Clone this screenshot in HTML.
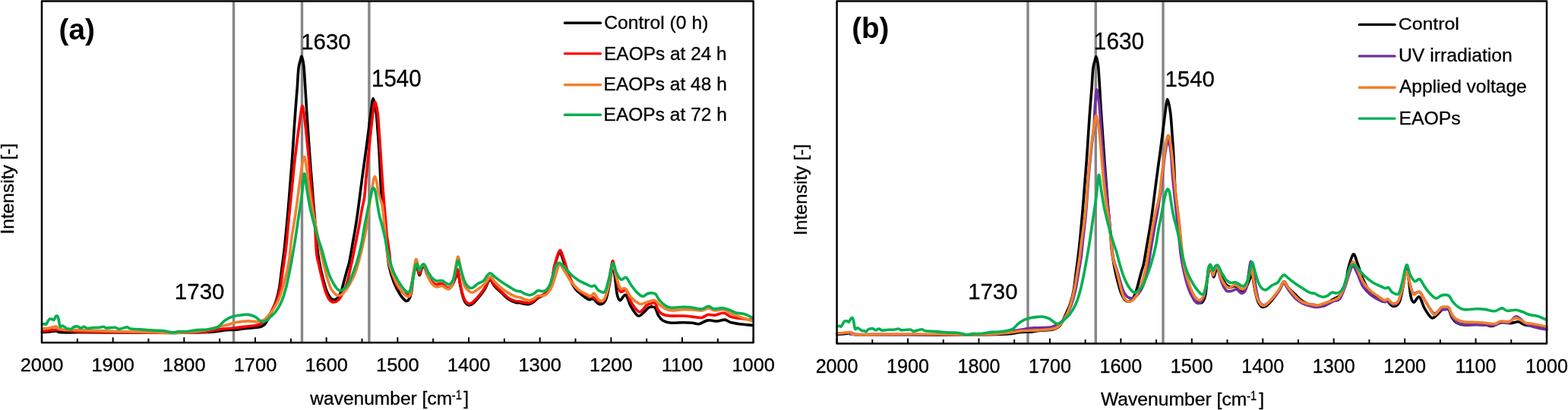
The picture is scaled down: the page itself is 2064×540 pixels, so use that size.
<!DOCTYPE html>
<html><head><meta charset="utf-8"><style>
html,body{margin:0;padding:0;background:#fff;width:2064px;height:540px;overflow:hidden}
svg{display:block}
text{font-family:"Liberation Sans", Arial, sans-serif;fill:#000;stroke:#000;stroke-width:0.3px}
text[font-weight="bold"]{stroke-width:0}
</style></head><body>
<svg width="2064" height="540" viewBox="0 0 2064 540">
<rect width="2064" height="540" fill="#fff"/>
<line x1="307.6" y1="1.5" x2="307.6" y2="451.3" stroke="#868686" stroke-width="3.4"/>
<line x1="397.5" y1="1.5" x2="397.5" y2="451.3" stroke="#868686" stroke-width="3.4"/>
<line x1="485.9" y1="1.5" x2="485.9" y2="451.3" stroke="#868686" stroke-width="3.4"/>
<line x1="55.00" y1="444.3" x2="55.00" y2="451.3" stroke="#000" stroke-width="2"/>
<line x1="101.84" y1="445.8" x2="101.84" y2="451.3" stroke="#000" stroke-width="2"/>
<line x1="148.67" y1="444.3" x2="148.67" y2="451.3" stroke="#000" stroke-width="2"/>
<line x1="195.50" y1="445.8" x2="195.50" y2="451.3" stroke="#000" stroke-width="2"/>
<line x1="242.34" y1="444.3" x2="242.34" y2="451.3" stroke="#000" stroke-width="2"/>
<line x1="289.18" y1="445.8" x2="289.18" y2="451.3" stroke="#000" stroke-width="2"/>
<line x1="336.01" y1="444.3" x2="336.01" y2="451.3" stroke="#000" stroke-width="2"/>
<line x1="382.85" y1="445.8" x2="382.85" y2="451.3" stroke="#000" stroke-width="2"/>
<line x1="429.68" y1="444.3" x2="429.68" y2="451.3" stroke="#000" stroke-width="2"/>
<line x1="476.51" y1="445.8" x2="476.51" y2="451.3" stroke="#000" stroke-width="2"/>
<line x1="523.35" y1="444.3" x2="523.35" y2="451.3" stroke="#000" stroke-width="2"/>
<line x1="570.18" y1="445.8" x2="570.18" y2="451.3" stroke="#000" stroke-width="2"/>
<line x1="617.02" y1="444.3" x2="617.02" y2="451.3" stroke="#000" stroke-width="2"/>
<line x1="663.86" y1="445.8" x2="663.86" y2="451.3" stroke="#000" stroke-width="2"/>
<line x1="710.69" y1="444.3" x2="710.69" y2="451.3" stroke="#000" stroke-width="2"/>
<line x1="757.52" y1="445.8" x2="757.52" y2="451.3" stroke="#000" stroke-width="2"/>
<line x1="804.36" y1="444.3" x2="804.36" y2="451.3" stroke="#000" stroke-width="2"/>
<line x1="851.20" y1="445.8" x2="851.20" y2="451.3" stroke="#000" stroke-width="2"/>
<line x1="898.03" y1="444.3" x2="898.03" y2="451.3" stroke="#000" stroke-width="2"/>
<line x1="944.87" y1="445.8" x2="944.87" y2="451.3" stroke="#000" stroke-width="2"/>
<line x1="991.70" y1="444.3" x2="991.70" y2="451.3" stroke="#000" stroke-width="2"/>
<text transform="translate(55.00,488.95) scale(1.0265,1)" text-anchor="middle" font-size="24.79">2000</text>
<text transform="translate(148.67,488.95) scale(1.0265,1)" text-anchor="middle" font-size="24.79">1900</text>
<text transform="translate(242.34,488.95) scale(1.0265,1)" text-anchor="middle" font-size="24.79">1800</text>
<text transform="translate(336.01,488.95) scale(1.0265,1)" text-anchor="middle" font-size="24.79">1700</text>
<text transform="translate(429.68,488.95) scale(1.0265,1)" text-anchor="middle" font-size="24.79">1600</text>
<text transform="translate(523.35,488.95) scale(1.0265,1)" text-anchor="middle" font-size="24.79">1500</text>
<text transform="translate(617.02,488.95) scale(1.0265,1)" text-anchor="middle" font-size="24.79">1400</text>
<text transform="translate(710.69,488.95) scale(1.0265,1)" text-anchor="middle" font-size="24.79">1300</text>
<text transform="translate(804.36,488.95) scale(1.0265,1)" text-anchor="middle" font-size="24.79">1200</text>
<text transform="translate(898.03,488.95) scale(1.0265,1)" text-anchor="middle" font-size="24.79">1100</text>
<text transform="translate(991.70,488.95) scale(1.0265,1)" text-anchor="middle" font-size="24.79">1000</text>
<line x1="1353.0" y1="1.4" x2="1353.0" y2="452.6" stroke="#868686" stroke-width="3.4"/>
<line x1="1442.3" y1="1.4" x2="1442.3" y2="452.6" stroke="#868686" stroke-width="3.4"/>
<line x1="1531.0" y1="1.4" x2="1531.0" y2="452.6" stroke="#868686" stroke-width="3.4"/>
<line x1="1101.60" y1="445.6" x2="1101.60" y2="452.6" stroke="#000" stroke-width="2"/>
<line x1="1148.32" y1="447.1" x2="1148.32" y2="452.6" stroke="#000" stroke-width="2"/>
<line x1="1195.04" y1="445.6" x2="1195.04" y2="452.6" stroke="#000" stroke-width="2"/>
<line x1="1241.76" y1="447.1" x2="1241.76" y2="452.6" stroke="#000" stroke-width="2"/>
<line x1="1288.48" y1="445.6" x2="1288.48" y2="452.6" stroke="#000" stroke-width="2"/>
<line x1="1335.20" y1="447.1" x2="1335.20" y2="452.6" stroke="#000" stroke-width="2"/>
<line x1="1381.92" y1="445.6" x2="1381.92" y2="452.6" stroke="#000" stroke-width="2"/>
<line x1="1428.64" y1="447.1" x2="1428.64" y2="452.6" stroke="#000" stroke-width="2"/>
<line x1="1475.36" y1="445.6" x2="1475.36" y2="452.6" stroke="#000" stroke-width="2"/>
<line x1="1522.08" y1="447.1" x2="1522.08" y2="452.6" stroke="#000" stroke-width="2"/>
<line x1="1568.80" y1="445.6" x2="1568.80" y2="452.6" stroke="#000" stroke-width="2"/>
<line x1="1615.52" y1="447.1" x2="1615.52" y2="452.6" stroke="#000" stroke-width="2"/>
<line x1="1662.24" y1="445.6" x2="1662.24" y2="452.6" stroke="#000" stroke-width="2"/>
<line x1="1708.96" y1="447.1" x2="1708.96" y2="452.6" stroke="#000" stroke-width="2"/>
<line x1="1755.68" y1="445.6" x2="1755.68" y2="452.6" stroke="#000" stroke-width="2"/>
<line x1="1802.40" y1="447.1" x2="1802.40" y2="452.6" stroke="#000" stroke-width="2"/>
<line x1="1849.12" y1="445.6" x2="1849.12" y2="452.6" stroke="#000" stroke-width="2"/>
<line x1="1895.84" y1="447.1" x2="1895.84" y2="452.6" stroke="#000" stroke-width="2"/>
<line x1="1942.56" y1="445.6" x2="1942.56" y2="452.6" stroke="#000" stroke-width="2"/>
<line x1="1989.28" y1="447.1" x2="1989.28" y2="452.6" stroke="#000" stroke-width="2"/>
<line x1="2036.00" y1="445.6" x2="2036.00" y2="452.6" stroke="#000" stroke-width="2"/>
<text transform="translate(1101.60,491.05) scale(1.0037,1)" text-anchor="middle" font-size="25.07">2000</text>
<text transform="translate(1195.04,491.05) scale(1.0037,1)" text-anchor="middle" font-size="25.07">1900</text>
<text transform="translate(1288.48,491.05) scale(1.0037,1)" text-anchor="middle" font-size="25.07">1800</text>
<text transform="translate(1381.92,491.05) scale(1.0037,1)" text-anchor="middle" font-size="25.07">1700</text>
<text transform="translate(1475.36,491.05) scale(1.0037,1)" text-anchor="middle" font-size="25.07">1600</text>
<text transform="translate(1568.80,491.05) scale(1.0037,1)" text-anchor="middle" font-size="25.07">1500</text>
<text transform="translate(1662.24,491.05) scale(1.0037,1)" text-anchor="middle" font-size="25.07">1400</text>
<text transform="translate(1755.68,491.05) scale(1.0037,1)" text-anchor="middle" font-size="25.07">1300</text>
<text transform="translate(1849.12,491.05) scale(1.0037,1)" text-anchor="middle" font-size="25.07">1200</text>
<text transform="translate(1942.56,491.05) scale(1.0037,1)" text-anchor="middle" font-size="25.07">1100</text>
<text transform="translate(2036.00,491.05) scale(1.0037,1)" text-anchor="middle" font-size="25.07">1000</text>
<path d="M55.5,437.5 C57.1,437.4 61.9,437.3 65.0,437.0 C68.1,436.7 71.5,435.8 74.0,435.9 C76.5,436.0 75.0,437.5 79.7,437.8 C84.4,438.1 90.2,437.8 102.4,437.8 C114.6,437.8 131.8,437.9 152.8,438.0 C173.8,438.1 207.4,438.5 228.4,438.4 C249.4,438.3 267.2,437.8 278.8,437.2 C290.4,436.6 292.2,435.1 297.7,434.6 C303.1,434.1 307.4,434.6 311.5,434.3 C315.6,434.0 317.4,433.2 322.2,432.7 C326.9,432.2 335.7,431.9 340.0,431.1 C344.3,430.3 345.6,429.7 347.8,427.8 C350.0,425.9 351.2,423.2 353.0,420.0 C354.8,416.8 356.6,412.2 358.3,408.3 C360.0,404.4 361.8,401.4 363.3,396.7 C364.8,392.0 366.2,386.9 367.5,380.0 C368.8,373.1 369.7,363.5 370.8,355.0 C371.9,346.5 373.2,337.9 374.2,328.9 C375.2,319.9 376.1,310.4 377.0,301.1 C377.9,291.8 378.7,282.6 379.5,273.3 C380.3,264.1 381.0,254.8 381.7,245.6 C382.4,236.3 383.2,227.1 383.9,217.8 C384.6,208.5 385.3,198.8 385.9,190.0 C386.5,181.2 386.9,173.3 387.5,165.0 C388.1,156.7 388.7,148.3 389.3,140.0 C389.9,131.7 390.7,123.3 391.3,115.0 C391.9,106.7 392.3,96.0 393.0,90.0 C393.7,84.0 394.8,81.7 395.5,79.0 C396.2,76.3 396.5,74.0 397.0,74.0 C397.5,74.0 398.0,76.7 398.5,79.0 C399.0,81.3 399.4,82.0 400.0,88.0 C400.6,94.0 401.2,106.3 401.8,115.0 C402.4,123.7 402.8,131.7 403.3,140.0 C403.8,148.3 404.4,156.7 405.0,165.0 C405.6,173.3 406.1,181.2 406.7,190.0 C407.3,198.8 408.0,208.5 408.7,217.8 C409.4,227.1 410.2,236.3 410.9,245.6 C411.6,254.8 412.3,264.1 413.1,273.3 C413.9,282.6 414.8,291.7 415.6,301.1 C416.4,310.6 417.1,321.9 418.0,330.0 C418.9,338.1 420.1,343.8 421.3,350.0 C422.5,356.2 423.9,361.8 425.3,367.3 C426.8,372.9 428.3,379.1 430.0,383.3 C431.7,387.5 433.6,390.8 435.3,392.7 C437.0,394.6 438.3,394.9 440.0,394.7 C441.7,394.5 443.6,393.6 445.3,391.3 C447.0,389.0 448.6,384.9 450.0,380.7 C451.4,376.5 452.8,370.3 454.0,366.0 C455.2,361.7 456.0,358.6 457.0,355.0 C458.0,351.4 458.9,349.9 460.0,344.4 C461.1,338.9 462.6,329.6 463.9,322.2 C465.2,314.8 466.5,307.9 467.8,300.0 C469.1,292.1 470.4,283.1 471.5,275.0 C472.6,266.9 473.4,259.8 474.5,251.6 C475.6,243.4 476.7,234.3 477.9,225.7 C479.1,217.1 480.3,208.4 481.5,199.8 C482.7,191.2 483.8,182.6 484.9,173.9 C486.0,165.2 487.1,155.2 488.2,147.9 C489.3,140.6 490.1,129.8 491.3,129.8 C492.5,129.8 494.2,140.6 495.2,147.9 C496.2,155.2 496.6,165.2 497.3,173.9 C498.0,182.6 498.6,191.2 499.1,199.8 C499.6,208.4 500.0,217.1 500.4,225.7 C500.8,234.3 501.0,243.4 501.7,251.6 C502.4,259.8 503.6,266.9 504.5,275.0 C505.4,283.1 506.2,290.8 507.0,300.0 C507.8,309.2 508.6,321.5 509.5,330.0 C510.4,338.5 510.8,344.2 512.3,351.1 C513.8,358.0 516.0,365.4 518.4,371.5 C520.8,377.6 524.0,383.7 526.6,387.8 C529.2,391.9 531.8,394.7 533.7,395.9 C535.6,397.1 536.5,396.6 537.8,394.9 C539.1,393.2 540.4,390.8 541.4,385.7 C542.4,380.6 543.0,370.0 544.0,364.0 C545.0,358.0 546.7,351.8 547.5,349.5 C548.3,347.2 548.2,348.3 549.0,350.5 C549.8,352.7 550.9,362.2 552.0,362.5 C553.1,362.8 554.6,354.6 555.5,352.5 C556.4,350.4 556.8,349.7 557.5,350.0 C558.2,350.3 559.2,352.7 560.0,354.5 C560.8,356.3 560.9,358.2 562.2,361.0 C563.5,363.8 565.8,369.0 567.8,371.5 C569.8,374.0 572.1,375.5 574.3,376.0 C576.4,376.5 578.1,373.8 580.7,374.5 C583.3,375.2 587.5,380.4 590.0,380.5 C592.5,380.6 593.9,377.8 595.6,375.0 C597.3,372.2 599.0,367.2 600.2,364.0 C601.4,360.8 601.7,354.2 602.6,356.0 C603.5,357.8 604.4,368.7 605.7,375.0 C607.0,381.3 608.7,389.6 610.4,394.0 C612.1,398.4 614.0,400.4 615.9,401.5 C617.8,402.6 619.3,401.9 621.5,400.5 C623.7,399.1 626.1,396.2 628.9,393.0 C631.7,389.8 635.5,385.1 638.1,381.0 C640.7,376.9 642.4,369.2 644.6,368.5 C646.8,367.8 648.5,374.2 651.1,377.0 C653.7,379.8 657.0,382.7 660.0,385.5 C663.0,388.3 666.2,391.9 669.3,394.0 C672.4,396.1 676.0,397.4 678.5,398.2 C681.0,399.0 682.1,398.4 684.1,398.8 C686.1,399.2 688.5,400.0 690.6,400.3 C692.8,400.6 695.0,401.0 697.0,400.5 C699.0,400.0 700.8,398.8 702.6,397.5 C704.5,396.2 705.9,393.9 708.1,392.5 C710.3,391.1 713.6,390.1 715.6,388.8 C717.6,387.6 718.7,387.3 720.2,385.0 C721.7,382.7 723.6,378.3 724.8,375.0 C726.0,371.7 726.8,368.9 727.6,365.0 C728.4,361.1 728.2,357.2 729.7,351.8 C731.2,346.4 734.5,334.0 736.5,332.8 C738.5,331.6 739.9,339.3 742.0,344.7 C744.1,350.1 746.6,359.1 749.1,365.0 C751.6,370.9 754.2,376.2 757.3,380.3 C760.4,384.4 764.5,387.1 767.5,389.5 C770.5,391.9 773.4,393.9 775.6,394.6 C777.8,395.3 778.5,392.6 780.7,393.6 C782.9,394.6 786.2,400.4 788.9,400.7 C791.6,401.0 794.8,399.9 797.0,395.6 C799.2,391.4 800.6,382.7 802.1,375.2 C803.6,367.7 805.0,352.8 806.2,350.8 C807.4,348.8 808.2,356.9 809.2,363.0 C810.2,369.1 811.1,382.1 812.3,387.5 C813.5,392.9 814.5,395.4 816.4,395.6 C818.3,395.8 821.1,387.1 823.5,388.5 C825.9,389.9 827.9,399.2 830.6,403.8 C833.3,408.4 837.1,414.6 839.8,416.0 C842.5,417.4 845.0,413.4 847.0,411.9 C849.0,410.3 850.4,408.0 851.9,406.7 C853.4,405.4 854.6,404.4 856.3,404.2 C858.0,403.9 860.5,403.3 862.2,405.2 C863.9,407.1 865.0,412.8 866.7,415.6 C868.4,418.4 869.9,420.6 872.6,422.2 C875.3,423.8 878.5,424.8 883.0,425.2 C887.5,425.6 894.6,424.8 899.3,424.8 C904.0,424.8 907.6,424.9 911.1,425.2 C914.6,425.5 916.5,427.2 920.0,426.7 C923.5,426.1 927.9,422.5 931.9,421.9 C935.9,421.3 940.0,423.1 943.7,423.0 C947.4,422.9 951.1,420.9 954.1,421.1 C957.1,421.4 958.3,423.6 961.5,424.5 C964.7,425.4 968.5,426.0 973.4,426.7 C978.3,427.4 988.1,428.2 991.0,428.5" fill="none" stroke="#000000" stroke-width="3.6" stroke-linejoin="round" stroke-linecap="round"/>
<path d="M55.5,436.5 C58.6,436.1 66.2,434.2 74.0,434.3 C81.8,434.4 89.3,436.3 102.4,436.8 C115.5,437.3 131.8,437.3 152.8,437.5 C173.8,437.7 209.5,438.1 228.4,438.0 C247.3,437.9 255.7,438.0 266.2,437.2 C276.7,436.4 285.1,434.2 291.4,433.4 C297.7,432.6 298.9,433.0 304.0,432.5 C309.1,432.0 316.2,431.2 322.2,430.4 C328.2,429.6 335.6,429.1 340.0,427.8 C344.4,426.6 346.4,425.2 348.9,422.9 C351.4,420.6 353.2,416.8 355.0,414.0 C356.8,411.2 358.0,408.9 359.5,406.0 C361.0,403.1 362.7,401.0 364.2,396.7 C365.7,392.4 367.3,386.9 368.7,380.0 C370.1,373.1 371.2,363.5 372.5,355.0 C373.8,346.5 375.1,337.9 376.2,328.9 C377.3,319.9 378.0,310.4 378.9,301.1 C379.8,291.8 380.8,282.6 381.7,273.3 C382.6,264.1 383.6,254.8 384.5,245.6 C385.4,236.3 386.3,227.1 387.3,217.8 C388.3,208.5 389.4,198.8 390.5,190.0 C391.6,181.2 392.8,172.7 393.8,165.0 C394.9,157.3 396.1,148.2 396.8,144.0 C397.5,139.8 397.6,139.5 398.0,139.5 C398.4,139.5 398.6,139.8 399.3,144.0 C400.0,148.2 401.1,157.3 402.0,165.0 C402.9,172.7 403.7,181.2 404.6,190.0 C405.5,198.8 406.5,208.5 407.3,217.8 C408.1,227.1 408.7,236.3 409.5,245.6 C410.3,254.8 411.4,264.1 412.3,273.3 C413.2,282.6 414.1,291.0 414.8,301.1 C415.5,311.2 415.8,325.9 416.7,334.0 C417.6,342.1 418.8,344.4 420.0,350.0 C421.2,355.6 422.6,361.5 424.0,367.3 C425.4,373.1 427.0,380.0 428.7,384.7 C430.4,389.4 432.2,393.1 434.0,395.3 C435.8,397.5 437.4,398.0 439.3,398.0 C441.2,398.0 443.3,397.3 445.3,395.3 C447.3,393.3 449.4,389.8 451.3,386.0 C453.2,382.2 455.2,377.2 456.7,372.7 C458.1,368.2 458.9,363.6 460.0,358.9 C461.1,354.2 462.0,350.5 463.3,344.4 C464.6,338.3 466.3,329.6 467.8,322.2 C469.3,314.8 470.8,307.4 472.2,300.0 C473.6,292.6 474.8,284.8 476.0,278.0 C477.2,271.2 478.8,265.9 479.7,259.4 C480.6,252.8 480.8,246.5 481.5,238.7 C482.2,230.9 483.2,221.3 484.1,212.7 C485.0,204.0 485.8,195.4 486.7,186.8 C487.6,178.2 488.4,169.5 489.5,160.9 C490.6,152.3 491.9,137.2 493.1,135.0 C494.4,132.8 496.0,141.4 497.0,147.9 C498.0,154.4 498.5,165.2 499.1,173.9 C499.8,182.6 500.3,191.2 500.9,199.8 C501.5,208.4 501.9,217.1 502.5,225.7 C503.1,234.3 503.7,243.4 504.3,251.6 C504.9,259.8 505.6,267.8 506.2,275.0 C506.8,282.2 507.5,289.1 508.0,295.0 C508.5,300.9 508.6,304.4 509.3,310.4 C510.0,316.3 511.4,323.7 512.3,330.7 C513.2,337.7 513.8,346.9 514.7,352.6 C515.7,358.3 516.6,360.9 518.0,365.0 C519.4,369.1 521.0,373.7 523.0,377.0 C525.0,380.3 527.9,383.2 530.0,385.0 C532.1,386.8 533.8,388.3 535.5,388.0 C537.2,387.7 538.6,387.3 540.0,383.0 C541.4,378.7 542.8,367.8 544.0,362.0 C545.2,356.2 546.7,350.2 547.5,348.0 C548.3,345.8 548.2,346.9 549.0,349.0 C549.8,351.1 550.9,360.6 552.0,360.9 C553.1,361.2 554.6,353.1 555.5,351.0 C556.4,348.9 556.8,348.2 557.5,348.5 C558.2,348.8 559.2,351.1 560.0,353.0 C560.8,354.9 560.9,357.0 562.2,359.8 C563.5,362.6 565.8,367.5 567.8,370.0 C569.8,372.5 572.1,374.1 574.3,374.6 C576.4,375.2 578.1,372.5 580.7,373.3 C583.3,374.1 587.5,379.2 590.0,379.3 C592.5,379.4 593.9,376.5 595.6,373.7 C597.3,370.9 599.0,365.7 600.2,362.6 C601.4,359.5 601.7,353.4 602.6,355.2 C603.5,357.0 604.4,367.5 605.7,373.7 C607.0,379.9 608.7,387.9 610.4,392.2 C612.1,396.5 614.0,398.5 615.9,399.6 C617.8,400.7 619.3,400.1 621.5,398.7 C623.7,397.3 626.1,394.5 628.9,391.3 C631.7,388.1 635.5,383.3 638.1,379.3 C640.7,375.3 642.4,367.8 644.6,367.2 C646.8,366.6 648.5,372.8 651.1,375.6 C653.7,378.4 657.0,381.3 660.0,384.1 C663.0,386.9 666.2,390.3 669.3,392.4 C672.4,394.5 676.0,395.8 678.5,396.6 C681.0,397.4 682.1,396.7 684.1,397.0 C686.1,397.3 688.5,398.1 690.6,398.4 C692.8,398.7 695.0,399.3 697.0,398.9 C699.0,398.5 700.8,397.3 702.6,396.1 C704.5,394.9 705.9,392.9 708.1,391.5 C710.3,390.1 713.6,389.0 715.6,387.8 C717.6,386.6 718.7,386.4 720.2,384.1 C721.7,381.8 723.6,377.3 724.8,373.9 C726.0,370.5 726.8,367.5 727.6,363.7 C728.4,359.9 728.2,356.4 729.7,350.8 C731.2,345.2 734.5,331.7 736.5,330.0 C738.5,328.3 739.9,335.1 742.0,340.6 C744.1,346.1 746.6,356.7 749.1,363.0 C751.6,369.3 754.2,374.4 757.3,378.3 C760.4,382.2 764.5,384.4 767.5,386.4 C770.5,388.4 773.4,389.6 775.6,390.5 C777.8,391.4 778.3,390.3 780.7,391.5 C783.1,392.7 787.2,397.6 789.9,397.6 C792.6,397.6 794.8,397.6 797.0,391.5 C799.2,385.4 801.5,369.0 803.1,361.0 C804.7,353.0 805.4,343.6 806.6,343.6 C807.8,343.6 808.8,354.5 810.3,361.0 C811.8,367.5 813.7,378.7 815.4,382.4 C817.1,386.1 819.0,383.6 820.5,383.4 C822.0,383.2 822.4,378.9 824.1,381.3 C825.8,383.7 828.0,392.8 830.6,397.6 C833.2,402.4 837.5,407.9 839.8,409.9 C842.1,411.9 842.4,411.0 844.4,409.6 C846.4,408.2 849.7,403.1 851.9,401.5 C854.1,399.9 856.1,400.1 857.8,399.7 C859.5,399.2 860.9,397.5 862.2,398.8 C863.6,400.1 864.4,405.0 865.9,407.4 C867.4,409.8 868.5,411.9 871.1,413.3 C873.7,414.7 876.8,415.6 881.5,416.0 C886.2,416.4 894.4,415.8 899.3,416.0 C904.2,416.2 907.1,416.7 911.1,417.1 C915.1,417.5 919.5,418.9 923.0,418.5 C926.5,418.1 928.9,415.1 931.9,414.5 C934.9,413.9 937.3,415.5 940.8,415.1 C944.2,414.7 949.1,411.9 952.6,412.2 C956.1,412.5 958.0,415.9 961.5,417.1 C965.0,418.3 968.5,418.6 973.4,419.3 C978.3,420.0 988.1,421.1 991.0,421.5" fill="none" stroke="#ff0000" stroke-width="3.6" stroke-linejoin="round" stroke-linecap="round"/>
<path d="M55.5,433.0 C57.0,432.9 61.5,432.6 64.6,432.1 C67.7,431.6 71.7,429.8 74.0,430.0 C76.3,430.2 73.8,432.6 78.5,433.4 C83.2,434.2 90.0,434.1 102.4,434.6 C114.8,435.1 136.0,436.0 152.8,436.5 C169.6,437.0 190.6,437.5 203.2,437.8 C215.8,438.1 220.0,438.5 228.4,438.4 C236.8,438.3 246.2,437.8 253.6,437.2 C260.9,436.6 267.3,435.7 272.5,434.6 C277.7,433.6 280.8,431.9 285.0,430.9 C289.2,429.8 293.3,429.4 297.7,428.3 C302.1,427.2 306.7,425.5 311.5,424.6 C316.3,423.7 321.9,423.0 326.7,422.9 C331.4,422.8 336.5,424.1 340.0,423.8 C343.5,423.5 345.9,422.2 347.8,421.1 C349.8,420.1 349.8,419.6 351.7,417.5 C353.6,415.4 356.7,412.1 359.2,408.3 C361.7,404.6 364.3,400.6 366.7,395.0 C369.1,389.4 371.4,381.7 373.3,375.0 C375.2,368.3 377.0,360.8 378.3,355.0 C379.6,349.2 380.1,346.7 381.0,340.0 C381.9,333.3 382.5,323.8 383.7,315.0 C384.9,306.2 386.7,296.5 388.1,287.2 C389.5,277.9 390.8,268.6 392.0,259.4 C393.2,250.1 394.5,239.4 395.6,231.7 C396.7,224.0 397.7,217.2 398.5,213.0 C399.3,208.8 400.0,207.0 400.6,206.7 C401.2,206.4 401.6,209.2 402.0,211.0 C402.4,212.8 402.3,212.0 403.1,217.8 C403.9,223.6 405.4,236.3 406.7,245.6 C408.0,254.8 409.3,264.1 410.9,273.3 C412.5,282.6 414.5,291.7 416.4,301.1 C418.2,310.6 420.4,322.3 422.0,330.0 C423.6,337.7 424.6,341.3 426.0,347.3 C427.4,353.3 429.0,360.4 430.7,366.0 C432.4,371.6 434.2,377.1 436.0,380.7 C437.8,384.2 439.6,385.9 441.3,387.3 C443.0,388.7 444.3,389.4 446.0,389.3 C447.7,389.2 449.3,388.6 451.3,386.7 C453.3,384.8 455.9,381.2 458.0,378.0 C460.1,374.8 462.4,370.5 464.0,367.3 C465.6,364.1 466.4,362.7 467.8,358.9 C469.2,355.1 470.5,350.5 472.2,344.4 C473.9,338.3 476.1,329.6 477.8,322.2 C479.5,314.8 480.9,307.9 482.2,300.0 C483.5,292.1 484.3,283.1 485.5,275.0 C486.7,266.9 488.3,257.8 489.3,251.6 C490.3,245.4 490.8,241.2 491.5,238.0 C492.2,234.8 492.7,232.2 493.4,232.2 C494.1,232.2 494.8,234.8 495.5,238.0 C496.2,241.2 497.0,247.6 497.8,251.6 C498.6,255.6 499.6,258.6 500.5,262.0 C501.4,265.4 502.5,266.5 503.4,272.0 C504.3,277.5 505.0,285.2 506.0,295.0 C507.0,304.8 508.1,321.3 509.3,330.7 C510.5,340.1 511.3,344.3 513.3,351.1 C515.3,357.9 518.6,365.7 521.5,371.5 C524.4,377.3 528.1,382.5 530.6,385.7 C533.1,388.9 535.1,390.8 536.8,390.8 C538.5,390.8 539.6,390.8 540.8,385.7 C542.0,380.6 543.0,366.8 544.0,360.0 C545.0,353.2 545.9,348.1 546.5,345.0 C547.1,341.9 547.2,341.5 547.6,341.3 C548.0,341.1 548.3,341.9 549.0,344.0 C549.7,346.1 550.9,353.0 552.0,354.0 C553.1,355.0 554.6,350.9 555.5,350.0 C556.4,349.1 556.8,348.2 557.5,348.5 C558.2,348.8 559.2,349.9 560.0,352.0 C560.8,354.1 561.2,357.5 562.5,361.0 C563.8,364.5 565.8,370.0 567.8,372.8 C569.8,375.6 572.0,377.2 574.3,377.8 C576.6,378.4 579.1,376.0 581.7,376.5 C584.3,377.0 587.7,381.2 590.0,380.7 C592.3,380.2 593.9,378.9 595.6,373.7 C597.3,368.5 599.0,355.5 600.2,349.6 C601.4,343.7 602.1,338.1 603.0,338.1 C603.9,338.1 604.5,343.7 605.7,349.6 C606.9,355.5 608.7,368.3 610.4,373.7 C612.1,379.1 614.0,380.1 615.9,382.0 C617.8,383.9 619.3,385.3 621.5,385.2 C623.7,385.1 626.1,383.0 628.9,381.1 C631.7,379.2 635.4,376.5 638.1,373.7 C640.8,370.9 643.0,364.9 645.2,364.4 C647.4,363.9 648.6,368.4 651.1,370.9 C653.6,373.4 657.0,376.9 660.0,379.4 C663.0,381.9 666.2,384.0 669.3,385.9 C672.4,387.8 676.0,389.7 678.5,390.6 C681.0,391.5 682.1,390.9 684.1,391.5 C686.1,392.1 688.5,393.6 690.6,394.3 C692.8,395.0 695.0,395.8 697.0,395.6 C699.0,395.4 700.8,394.3 702.6,393.3 C704.5,392.3 705.9,390.2 708.1,389.6 C710.3,389.0 713.4,390.2 715.6,389.6 C717.8,389.0 719.2,388.0 721.1,385.9 C723.0,383.8 725.2,380.1 726.7,376.7 C728.2,373.3 729.5,368.4 730.4,365.6 C731.3,362.8 731.2,362.8 732.2,360.0 C733.2,357.2 734.7,349.2 736.5,348.7 C738.3,348.2 740.6,353.3 743.0,356.9 C745.4,360.5 748.1,366.0 751.1,370.1 C754.1,374.2 757.9,378.4 761.3,381.3 C764.7,384.2 768.8,386.1 771.5,387.5 C774.2,388.9 775.8,390.1 777.6,389.9 C779.4,389.7 780.4,385.6 782.1,386.4 C783.8,387.2 785.8,393.1 787.8,394.6 C789.8,396.1 792.0,397.8 794.0,395.6 C796.0,393.4 798.0,389.3 800.1,381.3 C802.2,373.3 804.9,351.1 806.6,347.7 C808.3,344.3 808.7,355.7 810.3,361.0 C811.9,366.3 814.2,376.1 816.4,379.3 C818.6,382.5 821.1,378.3 823.5,380.3 C825.9,382.3 827.7,388.3 830.6,391.5 C833.5,394.7 838.2,398.3 840.8,399.7 C843.3,401.1 843.6,400.4 845.9,400.0 C848.2,399.6 852.1,397.7 854.8,397.0 C857.5,396.3 860.0,394.9 862.2,395.6 C864.4,396.4 865.7,399.6 868.2,401.5 C870.7,403.4 874.3,405.9 877.0,407.1 C879.7,408.3 880.8,408.8 884.5,408.9 C888.2,409.0 894.4,407.8 899.3,407.7 C904.2,407.6 909.9,408.0 914.1,408.2 C918.3,408.4 921.4,409.3 924.5,408.9 C927.6,408.5 929.9,405.9 932.6,405.9 C935.3,405.9 937.5,408.6 940.8,408.9 C944.1,409.2 949.1,407.1 952.6,407.7 C956.1,408.3 958.0,411.0 961.5,412.6 C965.0,414.2 968.5,415.4 973.4,417.1 C978.3,418.8 988.1,422.0 991.0,423.0" fill="none" stroke="#f27f2d" stroke-width="3.6" stroke-linejoin="round" stroke-linecap="round"/>
<path d="M55.5,427.0 C56.0,426.9 57.4,426.5 58.3,426.5 C59.2,426.5 59.8,428.1 60.8,427.1 C61.8,426.2 63.3,422.0 64.6,420.8 C65.9,419.6 67.4,420.1 68.4,420.2 C69.5,420.3 70.0,422.1 70.9,421.4 C71.8,420.7 73.0,416.6 74.0,416.1 C75.0,415.6 75.8,416.0 76.6,418.3 C77.4,420.6 78.2,428.4 79.1,430.2 C80.0,432.0 81.2,428.9 82.2,429.0 C83.2,429.1 84.5,430.3 85.4,430.9 C86.4,431.5 87.0,432.4 87.9,432.8 C88.8,433.2 90.0,432.8 91.0,433.0 C92.0,433.2 92.6,434.4 93.6,434.0 C94.5,433.6 95.2,431.6 96.7,430.9 C98.2,430.2 100.8,429.8 102.4,430.0 C104.0,430.2 104.8,432.1 106.2,432.1 C107.6,432.1 109.1,430.1 110.6,430.2 C112.1,430.3 113.0,432.3 115.0,432.5 C117.0,432.7 120.0,431.7 122.5,431.5 C125.0,431.3 127.8,431.7 130.1,431.5 C132.4,431.3 134.7,430.1 136.4,430.2 C138.1,430.3 137.7,431.9 140.2,432.1 C142.7,432.3 148.8,431.0 151.5,431.2 C154.2,431.4 154.0,433.4 156.6,433.4 C159.2,433.3 164.8,431.0 167.3,430.9 C169.8,430.8 167.8,432.4 171.7,433.0 C175.6,433.6 185.3,433.9 190.6,434.3 C195.8,434.7 199.4,435.1 203.2,435.3 C207.0,435.5 210.4,435.2 213.3,435.5 C216.2,435.8 218.5,436.4 220.8,436.8 C223.1,437.2 224.8,438.0 227.1,438.0 C229.4,438.0 231.3,437.1 234.7,436.8 C238.1,436.6 243.1,436.9 247.3,436.5 C251.5,436.1 255.7,435.0 259.9,434.6 C264.1,434.2 268.1,434.6 272.5,434.0 C276.9,433.4 282.7,432.6 286.3,430.9 C289.9,429.2 291.4,425.9 293.9,423.9 C296.4,421.9 298.9,420.2 301.4,418.9 C303.9,417.6 306.2,416.9 308.9,416.2 C311.6,415.5 314.8,415.2 317.8,414.9 C320.8,414.6 323.7,414.0 326.7,414.4 C329.7,414.8 333.0,415.8 335.6,417.1 C338.2,418.4 340.4,421.1 342.2,422.2 C344.0,423.3 345.0,424.0 346.7,423.8 C348.4,423.6 350.8,422.0 352.2,421.1 C353.6,420.2 353.1,420.2 355.0,418.3 C356.9,416.4 360.7,413.6 363.3,410.0 C365.9,406.4 368.6,402.0 370.8,396.7 C373.0,391.4 374.9,385.2 376.7,378.3 C378.5,371.4 380.4,361.4 381.7,355.0 C383.0,348.6 383.3,346.7 384.5,340.0 C385.7,333.3 387.3,323.8 388.7,315.0 C390.1,306.2 391.4,296.5 392.8,287.2 C394.2,277.9 395.9,267.6 397.0,259.4 C398.1,251.2 398.7,243.1 399.3,238.0 C399.9,232.9 400.2,229.6 400.6,228.9 C401.1,228.2 401.5,231.2 402.0,234.0 C402.5,236.8 402.4,239.0 403.4,245.6 C404.4,252.2 406.2,264.1 408.1,273.3 C410.0,282.6 413.2,294.2 415.0,301.1 C416.8,308.1 417.5,310.2 419.0,315.0 C420.5,319.8 422.4,324.6 424.0,330.0 C425.6,335.4 427.0,341.8 428.7,347.3 C430.4,352.9 432.1,358.6 434.0,363.3 C435.9,368.0 438.2,372.3 440.0,375.3 C441.8,378.3 443.2,380.1 444.7,381.3 C446.1,382.5 447.1,383.0 448.7,382.7 C450.2,382.4 452.2,381.0 454.0,379.3 C455.8,377.6 458.0,374.9 459.3,372.7 C460.6,370.5 461.1,368.3 462.0,366.0 C462.9,363.7 463.7,362.5 465.0,358.9 C466.3,355.3 468.2,350.5 470.0,344.4 C471.8,338.3 474.0,329.6 475.6,322.2 C477.2,314.8 478.2,306.7 479.4,300.0 C480.6,293.3 481.8,288.0 483.0,282.0 C484.2,276.0 485.4,269.2 486.5,264.0 C487.6,258.8 488.7,253.8 489.5,251.0 C490.3,248.2 490.8,247.3 491.5,247.5 C492.2,247.7 493.1,248.3 494.0,252.0 C494.9,255.7 496.0,264.3 496.9,269.6 C497.8,274.9 498.6,279.8 499.5,284.0 C500.4,288.2 501.4,290.6 502.5,295.0 C503.6,299.4 504.9,304.4 506.2,310.4 C507.5,316.3 508.8,323.9 510.3,330.7 C511.8,337.5 513.7,345.7 515.4,351.1 C517.1,356.5 518.5,359.2 520.5,363.3 C522.5,367.4 525.1,371.9 527.6,375.5 C530.1,379.1 533.7,383.5 535.7,384.7 C537.7,385.9 538.5,385.5 539.8,382.7 C541.1,379.9 542.4,373.1 543.5,368.0 C544.6,362.9 545.8,355.4 546.5,352.0 C547.2,348.6 547.5,348.1 548.0,347.6 C548.5,347.1 548.8,347.5 549.5,349.0 C550.2,350.5 551.1,356.2 552.0,356.4 C552.9,356.6 554.1,351.4 555.0,350.0 C555.9,348.6 556.8,347.8 557.6,347.9 C558.4,348.0 559.1,348.9 560.0,350.5 C560.9,352.1 562.0,355.6 563.0,357.5 C564.0,359.4 565.2,360.7 566.0,362.0 C566.8,363.3 566.4,364.1 567.8,365.4 C569.2,366.7 572.0,369.3 574.3,370.0 C576.6,370.7 578.9,368.8 581.7,369.6 C584.5,370.4 588.4,374.9 590.9,374.6 C593.4,374.4 595.0,371.7 596.5,368.1 C598.0,364.6 599.1,357.5 600.2,353.3 C601.3,349.1 601.9,342.8 603.0,343.1 C604.1,343.4 605.3,350.7 606.7,355.2 C608.1,359.7 609.8,366.3 611.3,370.0 C612.8,373.7 614.2,375.8 615.9,377.4 C617.6,378.9 619.3,379.9 621.5,379.3 C623.7,378.7 626.4,375.2 628.9,373.7 C631.4,372.1 634.3,371.7 636.3,370.0 C638.3,368.3 639.4,365.2 640.9,363.5 C642.4,361.8 643.5,359.7 645.2,359.8 C646.9,359.9 648.6,362.5 651.1,364.4 C653.6,366.3 657.0,369.0 660.0,371.1 C663.0,373.2 666.2,375.2 669.3,377.1 C672.4,379.0 675.7,381.5 678.5,382.7 C681.3,383.9 683.9,383.4 685.9,384.1 C687.9,384.8 688.8,386.1 690.6,386.9 C692.5,387.7 695.0,388.7 697.0,388.7 C699.0,388.7 700.8,387.9 702.6,386.9 C704.5,385.9 706.2,383.2 708.1,382.7 C710.0,382.1 711.8,383.8 713.7,383.6 C715.6,383.5 717.6,383.3 719.3,381.8 C721.0,380.3 722.7,377.5 723.9,374.8 C725.1,372.1 725.9,368.1 726.7,365.6 C727.5,363.1 727.6,362.6 728.5,360.0 C729.4,357.4 730.7,352.3 732.0,350.0 C733.3,347.7 734.7,346.0 736.5,346.3 C738.3,346.6 740.6,349.4 743.0,351.8 C745.4,354.2 748.1,358.1 751.1,361.0 C754.1,363.9 757.9,366.9 761.3,369.1 C764.7,371.3 768.6,372.8 771.5,374.2 C774.4,375.6 776.8,377.0 778.7,377.3 C780.6,377.6 781.2,375.4 782.7,376.2 C784.2,377.0 785.6,381.0 787.8,382.4 C790.0,383.8 793.8,386.6 796.0,384.4 C798.2,382.2 799.3,375.4 801.1,369.1 C802.9,362.8 804.9,348.4 806.6,346.7 C808.3,345.0 809.5,355.3 811.3,358.9 C813.1,362.5 815.3,367.0 817.4,368.1 C819.5,369.2 821.9,364.2 824.1,365.4 C826.3,366.6 828.2,371.9 830.6,375.2 C833.0,378.5 836.2,382.9 838.8,385.4 C841.3,387.9 843.7,390.1 845.9,390.4 C848.1,390.7 849.9,387.8 851.9,387.0 C853.9,386.2 855.9,385.8 857.8,385.9 C859.6,386.0 861.3,385.8 863.0,387.4 C864.7,389.0 866.1,393.1 868.2,395.6 C870.3,398.1 873.1,400.6 875.6,402.2 C878.1,403.8 879.0,404.9 883.0,405.2 C887.0,405.5 894.8,404.3 899.3,404.2 C903.8,404.1 905.8,404.3 909.7,404.8 C913.7,405.3 919.2,407.4 923.0,407.1 C926.8,406.9 929.9,403.4 932.6,403.3 C935.3,403.2 936.2,406.3 939.3,406.7 C942.4,407.1 947.6,405.4 951.1,405.6 C954.6,405.9 957.0,407.1 960.0,408.2 C963.0,409.2 965.7,411.0 968.9,411.9 C972.1,412.8 975.6,412.5 979.3,413.6 C983.0,414.7 989.0,417.7 991.0,418.5" fill="none" stroke="#00b050" stroke-width="3.6" stroke-linejoin="round" stroke-linecap="round"/>
<path d="M1102.1,440.3 C1103.7,440.2 1108.5,440.1 1111.6,439.8 C1114.7,439.5 1118.1,438.6 1120.6,438.7 C1123.0,438.8 1121.5,440.3 1126.2,440.6 C1131.0,440.9 1136.7,440.6 1148.9,440.6 C1161.0,440.6 1178.2,440.7 1199.2,440.8 C1220.1,440.9 1253.6,441.3 1274.6,441.2 C1295.5,441.1 1313.3,440.6 1324.9,440.0 C1336.4,439.4 1338.3,437.9 1343.7,437.4 C1349.1,436.9 1353.4,437.4 1357.5,437.1 C1361.5,436.8 1363.4,436.0 1368.1,435.5 C1372.9,434.9 1381.6,434.7 1385.9,433.9 C1390.2,433.0 1391.5,432.4 1393.7,430.5 C1395.8,428.7 1397.1,426.0 1398.9,422.7 C1400.6,419.4 1402.4,414.8 1404.2,410.9 C1405.9,407.0 1407.6,404.0 1409.1,399.2 C1410.7,394.5 1412.1,389.4 1413.3,382.4 C1414.6,375.4 1415.5,365.9 1416.6,357.3 C1417.7,348.7 1419.0,340.1 1420.0,331.0 C1421.0,322.0 1421.9,312.4 1422.8,303.0 C1423.7,293.7 1424.5,284.4 1425.3,275.1 C1426.1,265.8 1426.8,256.5 1427.5,247.2 C1428.2,237.9 1429.0,228.5 1429.7,219.2 C1430.4,209.9 1431.1,200.1 1431.7,191.2 C1432.3,182.4 1432.7,174.5 1433.3,166.1 C1433.9,157.7 1434.4,149.3 1435.1,140.9 C1435.7,132.5 1436.5,124.1 1437.1,115.8 C1437.7,107.4 1438.1,96.6 1438.8,90.6 C1439.5,84.6 1440.6,82.2 1441.3,79.5 C1441.9,76.8 1442.3,74.5 1442.8,74.5 C1443.3,74.5 1443.8,77.2 1444.3,79.5 C1444.8,81.9 1445.2,82.6 1445.8,88.6 C1446.3,94.6 1447.0,107.0 1447.6,115.8 C1448.1,124.5 1448.5,132.5 1449.0,140.9 C1449.6,149.3 1450.2,157.7 1450.7,166.1 C1451.3,174.5 1451.8,182.4 1452.4,191.2 C1453.1,200.1 1453.7,209.9 1454.4,219.2 C1455.1,228.5 1455.9,237.9 1456.6,247.2 C1457.4,256.5 1458.0,265.8 1458.8,275.1 C1459.6,284.4 1460.5,293.5 1461.3,303.0 C1462.1,312.5 1462.8,323.9 1463.7,332.1 C1464.7,340.3 1465.8,346.0 1467.0,352.2 C1468.2,358.5 1469.5,364.1 1471.0,369.7 C1472.4,375.2 1474.0,381.5 1475.7,385.8 C1477.3,390.0 1479.3,393.3 1481.0,395.2 C1482.6,397.1 1484.0,397.5 1485.7,397.2 C1487.3,397.0 1489.3,396.2 1490.9,393.8 C1492.6,391.5 1494.2,387.4 1495.6,383.1 C1497.1,378.9 1498.5,372.7 1499.6,368.4 C1500.8,364.0 1501.6,360.9 1502.6,357.3 C1503.6,353.7 1504.5,352.1 1505.6,346.6 C1506.8,341.1 1508.2,331.7 1509.5,324.3 C1510.8,316.8 1512.1,309.8 1513.4,301.9 C1514.7,294.0 1516.0,284.9 1517.1,276.8 C1518.2,268.7 1519.0,261.5 1520.1,253.2 C1521.1,245.0 1522.3,235.8 1523.5,227.2 C1524.6,218.5 1525.9,209.8 1527.1,201.1 C1528.2,192.4 1529.3,183.7 1530.4,175.0 C1531.6,166.3 1532.7,156.3 1533.7,148.9 C1534.8,141.5 1535.7,130.7 1536.8,130.7 C1538.0,130.7 1539.7,141.5 1540.7,148.9 C1541.7,156.3 1542.2,166.3 1542.8,175.0 C1543.5,183.7 1544.1,192.4 1544.6,201.1 C1545.1,209.8 1545.5,218.5 1545.9,227.2 C1546.3,235.8 1546.5,245.0 1547.2,253.2 C1547.9,261.5 1549.1,268.7 1550.0,276.8 C1550.9,284.9 1551.7,292.7 1552.5,301.9 C1553.3,311.2 1554.1,323.6 1555.0,332.1 C1555.9,340.7 1556.3,346.4 1557.8,353.4 C1559.3,360.3 1561.5,367.7 1563.9,373.9 C1566.2,380.0 1569.5,386.2 1572.0,390.3 C1574.6,394.4 1577.3,397.2 1579.1,398.4 C1581.0,399.6 1581.9,399.1 1583.2,397.4 C1584.5,395.7 1585.8,393.4 1586.8,388.2 C1587.8,383.0 1588.4,372.4 1589.4,366.3 C1590.4,360.3 1592.1,354.0 1592.9,351.7 C1593.7,349.5 1593.6,350.6 1594.4,352.8 C1595.1,354.9 1596.3,364.5 1597.4,364.8 C1598.5,365.2 1600.0,356.9 1600.9,354.8 C1601.8,352.7 1602.1,351.9 1602.9,352.2 C1603.6,352.6 1604.6,354.9 1605.4,356.8 C1606.1,358.6 1606.3,360.5 1607.6,363.3 C1608.9,366.2 1611.1,371.4 1613.1,373.9 C1615.2,376.4 1617.5,377.9 1619.6,378.4 C1621.8,378.9 1623.4,376.1 1626.0,376.9 C1628.6,377.7 1632.8,382.9 1635.3,382.9 C1637.8,383.0 1639.2,380.2 1640.9,377.4 C1642.6,374.6 1644.3,369.5 1645.5,366.3 C1646.6,363.2 1646.9,356.4 1647.9,358.3 C1648.8,360.1 1649.7,371.0 1651.0,377.4 C1652.2,383.8 1653.9,392.1 1655.6,396.5 C1657.3,401.0 1659.3,403.0 1661.1,404.1 C1663.0,405.2 1664.6,404.5 1666.7,403.1 C1668.9,401.6 1671.3,398.8 1674.1,395.5 C1676.9,392.3 1680.7,387.6 1683.3,383.4 C1685.9,379.3 1687.6,371.5 1689.8,370.9 C1691.9,370.2 1693.7,376.6 1696.2,379.4 C1698.8,382.3 1702.1,385.1 1705.1,388.0 C1708.1,390.8 1711.3,394.4 1714.4,396.5 C1717.5,398.7 1721.1,399.9 1723.6,400.8 C1726.0,401.6 1727.1,401.0 1729.2,401.4 C1731.2,401.7 1733.5,402.6 1735.6,402.9 C1737.8,403.2 1740.0,403.5 1742.0,403.1 C1744.0,402.6 1745.8,401.4 1747.6,400.0 C1749.5,398.7 1750.9,396.5 1753.1,395.0 C1755.3,393.6 1758.6,392.6 1760.6,391.3 C1762.6,390.0 1763.6,389.8 1765.2,387.5 C1766.7,385.2 1768.5,380.8 1769.8,377.4 C1771.0,374.1 1771.7,371.2 1772.6,367.3 C1773.4,363.5 1773.2,359.5 1774.6,354.1 C1776.1,348.7 1779.4,336.1 1781.4,334.9 C1783.5,333.7 1784.8,341.5 1786.9,346.9 C1789.0,352.3 1791.5,361.4 1794.0,367.3 C1796.5,373.3 1799.1,378.6 1802.2,382.7 C1805.2,386.8 1809.3,389.6 1812.4,392.0 C1815.4,394.4 1818.2,396.4 1820.4,397.1 C1822.6,397.8 1823.3,395.1 1825.5,396.1 C1827.7,397.1 1831.0,402.9 1833.7,403.3 C1836.4,403.6 1839.6,402.4 1841.8,398.1 C1844.0,393.9 1845.3,385.1 1846.9,377.6 C1848.4,370.1 1849.8,355.1 1851.0,353.1 C1852.1,351.0 1852.9,359.2 1854.0,365.3 C1855.0,371.5 1855.8,384.5 1857.0,390.0 C1858.2,395.5 1859.3,398.0 1861.1,398.1 C1863.0,398.3 1865.9,389.6 1868.2,391.0 C1870.6,392.4 1872.6,401.8 1875.3,406.4 C1878.0,411.0 1881.8,417.3 1884.5,418.7 C1887.2,420.0 1889.6,416.1 1891.7,414.5 C1893.7,413.0 1895.0,410.6 1896.5,409.3 C1898.1,408.0 1899.2,407.0 1900.9,406.8 C1902.6,406.5 1905.1,405.9 1906.8,407.8 C1908.6,409.7 1909.6,415.4 1911.3,418.3 C1913.0,421.1 1914.5,423.3 1917.2,424.9 C1919.9,426.5 1923.1,427.5 1927.6,427.9 C1932.0,428.4 1939.2,427.5 1943.8,427.5 C1948.5,427.5 1952.2,427.6 1955.6,427.9 C1959.0,428.2 1961.0,430.0 1964.5,429.4 C1967.9,428.9 1972.4,425.2 1976.4,424.6 C1980.3,424.0 1984.4,425.8 1988.1,425.7 C1991.8,425.6 1995.5,423.5 1998.5,423.8 C2001.5,424.1 2002.7,426.3 2005.9,427.2 C2009.1,428.2 2012.8,428.8 2017.7,429.4 C2022.7,430.1 2032.4,430.9 2035.3,431.2" fill="none" stroke="#000000" stroke-width="3.6" stroke-linejoin="round" stroke-linecap="round"/>
<path d="M1101.6,439.5 C1104.7,439.2 1116.3,437.8 1120.0,438.0 C1123.7,438.2 1110.7,440.1 1124.0,440.5 C1137.3,440.9 1174.8,440.4 1200.0,440.5 C1225.2,440.6 1256.3,441.2 1275.0,441.0 C1293.7,440.8 1302.7,440.2 1312.0,439.5 C1321.3,438.8 1325.7,437.4 1331.0,436.5 C1336.3,435.6 1339.2,434.9 1343.7,434.2 C1348.2,433.5 1354.1,432.5 1358.0,432.1 C1361.9,431.7 1362.7,432.1 1367.2,431.8 C1371.7,431.5 1380.1,431.6 1385.0,430.4 C1389.9,429.2 1393.7,426.9 1396.7,424.4 C1399.8,421.9 1401.1,419.3 1403.3,415.6 C1405.5,411.9 1408.0,407.8 1410.0,402.2 C1412.0,396.6 1413.8,390.3 1415.6,382.2 C1417.4,374.1 1419.4,361.0 1420.7,353.3 C1422.0,345.6 1422.8,341.6 1423.5,336.0 C1424.2,330.4 1424.1,329.3 1425.1,320.0 C1426.1,310.7 1428.2,294.6 1429.5,280.0 C1430.8,265.4 1431.8,246.7 1433.0,232.6 C1434.2,218.5 1435.5,206.4 1436.6,195.6 C1437.7,184.8 1439.0,177.6 1439.8,168.0 C1440.6,158.4 1440.9,146.3 1441.5,138.0 C1442.1,129.7 1442.8,120.0 1443.5,118.3 C1444.2,116.6 1444.9,124.7 1445.5,128.0 C1446.1,131.3 1446.5,132.7 1447.0,138.0 C1447.5,143.3 1448.1,151.3 1448.8,160.0 C1449.5,168.7 1450.0,178.3 1450.9,190.0 C1451.8,201.7 1453.2,218.2 1454.3,230.0 C1455.4,241.8 1456.3,250.3 1457.3,260.5 C1458.3,270.7 1459.5,281.9 1460.4,291.1 C1461.3,300.3 1462.0,307.4 1462.8,315.5 C1463.6,323.6 1464.1,332.9 1465.5,340.0 C1466.9,347.1 1468.9,351.1 1471.0,358.0 C1473.1,364.9 1475.9,376.1 1478.0,381.5 C1480.1,386.9 1481.4,388.8 1483.6,390.7 C1485.8,392.6 1488.5,393.2 1491.0,392.6 C1493.5,392.0 1496.1,389.8 1498.4,387.0 C1500.7,384.2 1502.9,381.1 1504.9,375.9 C1506.9,370.7 1508.7,363.6 1510.4,355.6 C1512.1,347.6 1513.5,337.1 1515.0,327.8 C1516.5,318.5 1518.3,308.0 1519.7,300.0 C1521.1,292.0 1522.3,286.9 1523.5,280.0 C1524.7,273.1 1525.6,267.0 1526.7,258.9 C1527.8,250.7 1528.9,240.4 1530.0,231.1 C1531.1,221.8 1532.5,210.2 1533.5,203.3 C1534.5,196.5 1535.1,193.2 1535.8,190.0 C1536.5,186.8 1537.0,184.0 1537.6,184.0 C1538.2,184.0 1538.8,186.8 1539.5,190.0 C1540.2,193.2 1540.8,196.5 1541.5,203.3 C1542.2,210.2 1542.6,221.8 1543.4,231.1 C1544.2,240.4 1545.4,250.7 1546.2,258.9 C1547.0,267.0 1547.7,272.6 1548.5,280.0 C1549.3,287.4 1549.9,293.3 1551.0,303.3 C1552.1,313.3 1553.0,327.8 1555.0,340.0 C1557.0,352.2 1560.5,367.5 1563.3,376.7 C1566.1,385.9 1569.2,391.2 1571.7,395.0 C1574.2,398.8 1576.1,400.1 1578.3,399.3 C1580.5,398.5 1583.0,396.3 1585.0,390.0 C1587.0,383.7 1588.8,368.1 1590.0,361.5 C1591.2,354.9 1591.5,351.9 1592.2,350.5 C1593.0,349.1 1593.7,350.9 1594.5,353.0 C1595.3,355.1 1596.1,362.8 1596.9,363.0 C1597.7,363.2 1598.7,356.0 1599.5,354.0 C1600.3,352.0 1600.6,348.0 1602.0,351.0 C1603.4,354.0 1606.0,366.6 1608.1,371.9 C1610.2,377.2 1612.3,381.1 1614.6,383.0 C1616.9,384.9 1619.8,383.3 1622.0,383.0 C1624.2,382.7 1625.4,380.6 1627.6,381.1 C1629.8,381.7 1632.8,386.6 1635.0,386.3 C1637.2,386.0 1638.9,385.4 1640.6,379.3 C1642.3,373.2 1644.1,355.2 1645.2,349.6 C1646.3,344.0 1646.1,343.4 1647.0,345.9 C1647.9,348.4 1649.2,356.4 1650.7,364.4 C1652.2,372.4 1654.4,387.9 1656.3,394.1 C1658.2,400.3 1659.9,400.6 1661.9,401.5 C1663.9,402.4 1665.7,401.5 1668.3,399.6 C1670.9,397.8 1674.8,393.5 1677.6,390.4 C1680.4,387.3 1683.0,384.0 1685.0,381.1 C1687.0,378.2 1687.8,372.7 1689.6,372.8 C1691.4,372.9 1693.5,378.6 1696.1,382.0 C1698.7,385.4 1702.3,390.2 1705.4,393.1 C1708.5,396.0 1711.2,397.9 1714.6,399.6 C1718.0,401.3 1722.3,402.5 1725.7,403.3 C1729.1,404.1 1731.8,404.8 1735.0,404.5 C1738.2,404.2 1741.8,403.0 1745.2,401.7 C1748.6,400.4 1752.4,398.0 1755.4,396.6 C1758.5,395.2 1761.0,396.8 1763.5,393.6 C1766.0,390.4 1768.7,382.7 1770.7,377.3 C1772.8,371.9 1774.1,365.4 1775.8,361.0 C1777.5,356.6 1779.0,350.8 1780.9,350.8 C1782.8,350.8 1784.8,356.6 1787.0,361.0 C1789.2,365.4 1791.2,372.7 1794.1,377.3 C1797.0,381.9 1800.9,385.6 1804.3,388.5 C1807.7,391.4 1811.5,393.1 1814.5,394.6 C1817.5,396.1 1820.6,397.3 1822.6,397.6 C1824.6,397.9 1824.8,396.0 1826.7,396.6 C1828.6,397.2 1831.5,401.3 1833.9,401.3 C1836.3,401.3 1838.8,401.0 1841.0,396.6 C1843.2,392.2 1845.4,382.5 1847.1,375.2 C1848.8,367.9 1849.8,353.5 1851.2,352.8 C1852.6,352.1 1853.8,365.5 1855.3,371.1 C1856.8,376.7 1858.2,384.2 1860.4,386.4 C1862.6,388.6 1866.0,382.9 1868.5,384.4 C1871.0,385.9 1872.8,391.2 1875.6,395.6 C1878.4,400.0 1883.1,408.2 1885.4,411.0 C1887.7,413.8 1887.5,413.1 1889.4,412.6 C1891.3,412.1 1894.7,409.0 1896.9,408.2 C1899.1,407.4 1901.1,407.8 1902.8,407.7 C1904.5,407.6 1905.6,405.6 1907.2,407.4 C1908.8,409.2 1910.4,415.5 1912.4,418.5 C1914.4,421.5 1916.5,423.7 1919.1,425.2 C1921.7,426.7 1923.8,427.0 1928.0,427.4 C1932.2,427.8 1939.1,427.2 1944.3,427.4 C1949.5,427.6 1955.1,428.4 1959.1,428.5 C1963.0,428.6 1965.3,428.9 1968.0,428.2 C1970.7,427.5 1972.4,425.0 1975.4,424.5 C1978.4,424.0 1982.6,426.4 1985.8,425.2 C1989.0,424.0 1992.2,418.1 1994.7,417.1 C1997.2,416.1 1998.4,417.8 2000.6,419.3 C2002.8,420.8 2005.0,424.0 2008.0,425.9 C2011.0,427.8 2013.7,429.0 2018.4,430.4 C2023.1,431.8 2033.1,433.5 2036.0,434.1" fill="none" stroke="#7030a0" stroke-width="3.6" stroke-linejoin="round" stroke-linecap="round"/>
<path d="M1101.6,439.0 C1103.0,438.9 1107.0,438.8 1110.0,438.5 C1113.0,438.2 1117.2,437.2 1119.4,437.5 C1121.6,437.8 1119.8,439.7 1123.2,440.3 C1126.6,440.9 1127.0,440.9 1139.6,440.9 C1152.2,440.8 1180.5,440.1 1198.8,440.0 C1217.1,439.9 1236.6,440.4 1249.2,440.5 C1261.8,440.6 1263.9,441.0 1274.4,440.9 C1284.9,440.8 1302.8,440.1 1312.2,439.6 C1321.7,439.1 1325.8,438.4 1331.1,437.8 C1336.3,437.2 1337.7,436.4 1343.7,435.9 C1349.7,435.4 1360.3,435.3 1367.2,434.9 C1374.1,434.5 1380.7,434.1 1385.0,433.3 C1389.3,432.5 1390.6,432.2 1393.3,430.0 C1396.0,427.8 1398.5,424.6 1401.1,420.0 C1403.7,415.4 1406.7,408.9 1408.9,402.2 C1411.1,395.5 1412.7,388.1 1414.4,380.0 C1416.1,371.9 1417.7,360.6 1418.9,353.3 C1420.1,346.0 1420.8,341.6 1421.5,336.0 C1422.2,330.4 1422.1,329.3 1423.3,320.0 C1424.5,310.7 1427.1,294.6 1428.6,280.0 C1430.1,265.4 1431.2,246.7 1432.4,232.6 C1433.7,218.5 1434.9,206.4 1436.1,195.6 C1437.3,184.8 1438.6,175.1 1439.8,167.8 C1441.0,160.5 1441.9,152.0 1443.0,152.0 C1444.1,152.0 1445.3,160.5 1446.3,167.8 C1447.3,175.1 1448.2,185.2 1449.1,195.6 C1450.0,206.0 1450.9,219.2 1451.9,230.0 C1452.9,240.8 1454.0,250.3 1455.3,260.5 C1456.6,270.7 1458.5,280.9 1459.8,291.1 C1461.1,301.3 1462.1,313.5 1463.0,321.6 C1463.9,329.8 1463.8,333.8 1465.0,340.0 C1466.2,346.2 1468.5,351.7 1470.3,358.7 C1472.1,365.7 1474.4,376.3 1476.0,381.9 C1477.6,387.5 1478.2,389.9 1479.9,392.5 C1481.6,395.1 1484.0,397.2 1486.3,397.2 C1488.6,397.2 1491.2,395.8 1493.7,392.6 C1496.2,389.4 1498.8,384.0 1501.1,377.8 C1503.4,371.6 1505.7,363.9 1507.6,355.6 C1509.5,347.3 1510.8,337.1 1512.3,327.8 C1513.8,318.5 1515.5,308.0 1516.9,300.0 C1518.4,292.0 1519.5,286.9 1521.0,280.0 C1522.5,273.1 1524.5,267.0 1525.9,258.9 C1527.3,250.7 1528.1,240.4 1529.2,231.1 C1530.3,221.8 1531.8,211.0 1532.8,203.3 C1533.8,195.6 1534.7,189.2 1535.5,185.0 C1536.3,180.8 1536.8,178.5 1537.6,178.3 C1538.3,178.1 1539.2,179.8 1540.0,184.0 C1540.8,188.2 1541.7,195.5 1542.6,203.3 C1543.5,211.2 1544.4,221.8 1545.3,231.1 C1546.2,240.4 1547.2,250.7 1548.1,258.9 C1549.0,267.0 1549.9,272.8 1550.8,280.0 C1551.7,287.2 1552.4,293.7 1553.3,302.0 C1554.2,310.3 1555.0,321.7 1556.0,330.0 C1557.0,338.3 1557.5,344.8 1559.0,352.0 C1560.5,359.2 1562.6,366.7 1565.0,373.3 C1567.4,379.9 1570.8,388.1 1573.3,391.7 C1575.8,395.3 1578.0,395.8 1580.0,395.0 C1582.0,394.2 1583.3,392.4 1585.0,386.7 C1586.7,381.0 1588.8,367.1 1590.0,361.0 C1591.2,354.9 1591.8,351.4 1592.5,350.0 C1593.2,348.6 1593.8,350.4 1594.5,352.5 C1595.2,354.6 1596.1,362.3 1596.9,362.4 C1597.7,362.5 1598.6,355.0 1599.5,353.0 C1600.4,351.0 1601.0,348.3 1602.3,350.5 C1603.6,352.7 1605.5,362.1 1607.2,366.3 C1609.0,370.5 1611.0,373.4 1612.8,375.6 C1614.6,377.8 1616.1,379.4 1618.3,379.3 C1620.5,379.2 1622.9,374.9 1625.7,375.2 C1628.5,375.5 1632.5,381.0 1635.0,381.1 C1637.5,381.2 1638.9,379.2 1640.6,375.6 C1642.3,372.1 1644.0,363.4 1645.2,359.8 C1646.4,356.2 1646.7,352.0 1647.6,354.3 C1648.5,356.6 1649.4,367.1 1650.7,373.7 C1652.0,380.3 1653.5,389.3 1655.4,394.1 C1657.3,398.9 1659.8,401.5 1661.9,402.4 C1664.1,403.3 1665.7,401.8 1668.3,399.6 C1670.9,397.4 1674.8,392.8 1677.6,389.4 C1680.4,386.0 1683.0,382.4 1685.0,379.3 C1687.0,376.2 1687.8,370.9 1689.6,370.9 C1691.4,370.9 1693.5,376.1 1696.1,379.3 C1698.7,382.6 1702.3,387.3 1705.4,390.4 C1708.5,393.5 1711.2,396.1 1714.6,397.8 C1718.0,399.6 1722.3,400.2 1725.7,400.9 C1729.1,401.6 1731.8,402.4 1735.0,402.0 C1738.2,401.6 1742.0,399.8 1745.2,398.7 C1748.4,397.6 1751.5,396.8 1754.4,395.6 C1757.3,394.4 1760.0,394.6 1762.5,391.5 C1765.0,388.4 1767.5,383.1 1769.7,377.3 C1771.9,371.5 1773.9,362.3 1775.8,356.9 C1777.7,351.5 1779.0,345.0 1780.9,344.7 C1782.8,344.4 1784.8,350.4 1787.0,354.8 C1789.2,359.2 1791.2,366.3 1794.1,371.1 C1797.0,375.9 1800.9,380.2 1804.3,383.4 C1807.7,386.6 1811.5,388.5 1814.5,390.5 C1817.5,392.5 1820.6,395.0 1822.6,395.6 C1824.6,396.2 1824.8,393.3 1826.7,394.0 C1828.6,394.7 1831.5,399.4 1833.9,399.7 C1836.3,400.0 1838.8,399.7 1841.0,395.6 C1843.2,391.5 1845.4,381.5 1847.1,375.2 C1848.8,368.9 1849.8,358.6 1851.2,357.9 C1852.6,357.2 1853.8,366.2 1855.3,371.1 C1856.8,376.0 1858.2,385.3 1860.4,387.5 C1862.6,389.7 1866.0,383.0 1868.5,384.4 C1871.0,385.8 1872.8,391.1 1875.6,395.6 C1878.3,400.1 1882.7,408.4 1885.0,411.5 C1887.3,414.6 1887.4,415.2 1889.4,414.1 C1891.4,413.1 1894.7,406.9 1896.9,405.2 C1899.1,403.5 1901.1,404.2 1902.8,404.2 C1904.5,404.2 1905.7,403.4 1907.2,405.2 C1908.7,407.0 1910.0,412.2 1911.7,414.8 C1913.4,417.4 1914.9,419.3 1917.6,420.8 C1920.3,422.3 1923.5,423.4 1928.0,424.0 C1932.5,424.6 1939.6,424.2 1944.3,424.5 C1949.0,424.8 1952.1,425.2 1956.1,425.5 C1960.0,425.8 1964.8,426.8 1968.0,426.4 C1971.2,426.0 1972.4,423.4 1975.4,423.0 C1978.4,422.6 1982.6,424.4 1985.8,423.7 C1989.0,423.0 1992.2,419.5 1994.7,419.0 C1997.2,418.5 1998.4,419.8 2000.6,420.8 C2002.8,421.8 2005.0,424.2 2008.0,425.2 C2011.0,426.2 2013.7,425.8 2018.4,426.7 C2023.1,427.6 2033.1,429.8 2036.0,430.4" fill="none" stroke="#f27f2d" stroke-width="3.6" stroke-linejoin="round" stroke-linecap="round"/>
<path d="M1102.1,429.7 C1102.6,429.7 1104.0,429.2 1104.9,429.2 C1105.8,429.3 1106.3,430.8 1107.4,429.8 C1108.4,428.9 1109.9,424.7 1111.2,423.5 C1112.4,422.3 1113.9,422.8 1115.0,422.9 C1116.0,423.0 1116.5,424.8 1117.5,424.1 C1118.4,423.4 1119.6,419.3 1120.6,418.8 C1121.5,418.2 1122.3,418.6 1123.1,421.0 C1124.0,423.3 1124.7,431.2 1125.6,433.0 C1126.6,434.8 1127.7,431.6 1128.7,431.7 C1129.8,431.9 1131.0,433.0 1131.9,433.7 C1132.9,434.3 1133.5,435.2 1134.4,435.6 C1135.4,435.9 1136.6,435.6 1137.5,435.8 C1138.5,436.0 1139.2,437.1 1140.1,436.8 C1141.1,436.4 1141.7,434.3 1143.2,433.7 C1144.7,433.0 1147.3,432.6 1148.9,432.8 C1150.5,433.0 1151.3,434.8 1152.7,434.9 C1154.0,434.9 1155.6,432.9 1157.1,433.0 C1158.5,433.0 1159.5,435.1 1161.5,435.3 C1163.4,435.5 1166.4,434.4 1168.9,434.3 C1171.4,434.1 1174.2,434.5 1176.5,434.3 C1178.8,434.0 1181.1,432.9 1182.8,433.0 C1184.5,433.1 1184.1,434.7 1186.6,434.9 C1189.1,435.0 1195.1,433.7 1197.9,434.0 C1200.6,434.2 1200.3,436.2 1203.0,436.2 C1205.6,436.1 1211.1,433.7 1213.6,433.7 C1216.1,433.6 1214.1,435.2 1218.0,435.8 C1221.9,436.3 1231.6,436.7 1236.9,437.1 C1242.1,437.5 1245.7,437.9 1249.4,438.1 C1253.2,438.3 1256.6,438.0 1259.5,438.3 C1262.4,438.5 1264.7,439.2 1267.0,439.6 C1269.3,440.0 1271.0,440.8 1273.3,440.8 C1275.6,440.8 1277.5,439.9 1280.9,439.6 C1284.2,439.3 1289.2,439.7 1293.4,439.3 C1297.6,438.9 1301.8,437.8 1306.0,437.4 C1310.2,437.0 1314.2,437.4 1318.6,436.8 C1323.0,436.2 1328.8,435.4 1332.3,433.7 C1335.9,432.0 1337.4,428.6 1339.9,426.6 C1342.4,424.6 1344.9,422.9 1347.4,421.6 C1349.9,420.3 1352.2,419.5 1354.9,418.9 C1357.6,418.2 1360.8,417.9 1363.8,417.6 C1366.7,417.3 1369.7,416.7 1372.6,417.1 C1375.6,417.4 1378.9,418.5 1381.5,419.8 C1384.1,421.1 1386.3,423.8 1388.1,424.9 C1389.9,426.0 1390.9,426.7 1392.6,426.5 C1394.2,426.3 1396.7,424.7 1398.1,423.8 C1399.5,422.9 1399.0,422.8 1400.9,421.0 C1402.7,419.1 1406.5,416.3 1409.1,412.6 C1411.8,409.0 1414.4,404.6 1416.6,399.2 C1418.9,393.9 1420.7,387.7 1422.5,380.7 C1424.3,373.7 1426.2,363.7 1427.5,357.3 C1428.8,350.9 1429.1,348.9 1430.3,342.2 C1431.5,335.5 1433.1,325.9 1434.5,317.0 C1435.9,308.2 1437.2,298.4 1438.6,289.1 C1440.0,279.7 1441.7,269.3 1442.8,261.1 C1443.8,252.8 1444.5,244.7 1445.1,239.5 C1445.7,234.4 1445.9,231.1 1446.4,230.4 C1446.8,229.7 1447.3,232.7 1447.7,235.5 C1448.2,238.3 1448.1,240.6 1449.1,247.2 C1450.2,253.8 1451.9,265.8 1453.8,275.1 C1455.8,284.4 1458.9,296.0 1460.7,303.0 C1462.5,310.0 1463.2,312.2 1464.7,317.0 C1466.2,321.9 1468.1,326.7 1469.7,332.1 C1471.3,337.5 1472.7,343.9 1474.4,349.5 C1476.0,355.1 1477.8,360.9 1479.7,365.6 C1481.6,370.3 1483.9,374.7 1485.7,377.7 C1487.4,380.7 1488.9,382.5 1490.3,383.7 C1491.8,385.0 1492.8,385.5 1494.3,385.2 C1495.9,384.8 1497.9,383.4 1499.6,381.7 C1501.4,380.1 1503.6,377.3 1504.9,375.1 C1506.2,372.9 1506.7,370.7 1507.6,368.4 C1508.6,366.0 1509.3,364.8 1510.6,361.2 C1511.9,357.6 1513.8,352.8 1515.6,346.6 C1517.3,340.5 1519.6,331.7 1521.2,324.3 C1522.7,316.8 1523.7,308.7 1525.0,301.9 C1526.2,295.2 1527.4,289.9 1528.6,283.8 C1529.7,277.8 1531.0,270.9 1532.0,265.7 C1533.1,260.5 1534.2,255.4 1535.0,252.6 C1535.9,249.9 1536.3,248.9 1537.0,249.1 C1537.8,249.3 1538.6,249.9 1539.5,253.6 C1540.4,257.3 1541.5,266.0 1542.4,271.3 C1543.3,276.7 1544.1,281.6 1545.0,285.8 C1545.9,290.1 1546.9,292.5 1548.0,296.9 C1549.1,301.3 1550.4,306.4 1551.7,312.4 C1553.0,318.4 1554.3,326.0 1555.8,332.8 C1557.3,339.7 1559.2,347.9 1560.9,353.4 C1562.6,358.8 1563.9,361.5 1566.0,365.6 C1568.0,369.7 1570.5,374.3 1573.0,377.9 C1575.6,381.5 1579.1,386.0 1581.1,387.2 C1583.2,388.4 1583.9,388.0 1585.2,385.2 C1586.5,382.4 1588.1,375.2 1588.9,370.4 C1589.7,365.5 1589.4,359.6 1590.0,356.0 C1590.6,352.4 1591.8,349.6 1592.5,348.7 C1593.2,347.8 1593.8,349.2 1594.5,350.5 C1595.2,351.8 1596.1,356.3 1596.9,356.4 C1597.7,356.5 1598.6,352.2 1599.5,351.0 C1600.4,349.8 1601.6,348.8 1602.5,349.0 C1603.4,349.2 1604.0,350.7 1605.0,352.5 C1606.0,354.3 1607.3,357.8 1608.4,359.8 C1609.4,361.8 1610.6,363.0 1611.3,364.3 C1612.1,365.6 1611.8,366.4 1613.1,367.7 C1614.5,369.1 1617.3,371.7 1619.6,372.4 C1621.9,373.1 1624.2,371.2 1627.0,372.0 C1629.8,372.7 1633.7,377.3 1636.2,377.0 C1638.6,376.8 1640.2,374.0 1641.8,370.5 C1643.3,366.9 1644.4,359.8 1645.5,355.6 C1646.5,351.4 1647.2,345.0 1648.3,345.3 C1649.3,345.6 1650.6,353.0 1651.9,357.5 C1653.3,362.0 1655.0,368.7 1656.5,372.4 C1658.1,376.1 1659.4,378.3 1661.1,379.8 C1662.8,381.4 1664.6,382.4 1666.7,381.7 C1668.9,381.1 1671.6,377.7 1674.1,376.1 C1676.6,374.5 1679.5,374.1 1681.5,372.4 C1683.5,370.7 1684.6,367.5 1686.1,365.8 C1687.5,364.1 1688.7,362.0 1690.4,362.1 C1692.0,362.3 1693.8,364.8 1696.2,366.7 C1698.7,368.6 1702.1,371.4 1705.1,373.5 C1708.1,375.6 1711.3,377.6 1714.4,379.5 C1717.5,381.5 1720.8,384.0 1723.6,385.2 C1726.3,386.3 1728.9,385.9 1731.0,386.6 C1733.0,387.3 1733.8,388.6 1735.6,389.4 C1737.5,390.2 1740.0,391.2 1742.0,391.2 C1744.0,391.2 1745.8,390.4 1747.6,389.4 C1749.5,388.4 1751.3,385.7 1753.1,385.2 C1754.9,384.6 1756.8,386.2 1758.7,386.1 C1760.5,385.9 1762.6,385.7 1764.3,384.3 C1766.0,382.8 1767.6,379.9 1768.9,377.2 C1770.1,374.5 1770.9,370.4 1771.7,367.9 C1772.4,365.5 1772.6,364.9 1773.4,362.3 C1774.3,359.7 1775.6,354.5 1776.9,352.2 C1778.3,350.0 1779.6,348.2 1781.4,348.5 C1783.3,348.8 1785.5,351.6 1787.9,354.1 C1790.3,356.5 1793.0,360.4 1796.0,363.3 C1799.0,366.2 1802.8,369.3 1806.2,371.5 C1809.6,373.7 1813.5,375.2 1816.3,376.6 C1819.2,378.0 1821.7,379.4 1823.5,379.7 C1825.4,380.1 1826.0,377.8 1827.5,378.6 C1829.0,379.5 1830.4,383.5 1832.6,384.9 C1834.8,386.2 1838.6,389.1 1840.8,386.9 C1843.0,384.6 1844.1,377.8 1845.9,371.5 C1847.6,365.1 1849.7,350.6 1851.4,348.9 C1853.1,347.2 1854.3,357.6 1856.0,361.2 C1857.8,364.8 1860.0,369.4 1862.1,370.5 C1864.3,371.6 1866.6,366.6 1868.8,367.7 C1871.0,368.9 1872.9,374.3 1875.3,377.6 C1877.7,381.0 1880.9,385.3 1883.5,387.9 C1886.0,390.4 1888.4,392.6 1890.6,392.9 C1892.7,393.2 1894.6,390.2 1896.5,389.5 C1898.5,388.7 1900.6,388.3 1902.4,388.4 C1904.3,388.4 1905.9,388.3 1907.6,389.9 C1909.3,391.5 1910.7,395.7 1912.8,398.1 C1914.9,400.6 1917.7,403.2 1920.2,404.8 C1922.7,406.4 1923.6,407.5 1927.6,407.8 C1931.5,408.1 1939.4,406.9 1943.8,406.8 C1948.3,406.7 1950.3,406.9 1954.2,407.4 C1958.1,407.9 1963.7,410.0 1967.5,409.7 C1971.3,409.5 1974.3,406.0 1977.0,405.9 C1979.8,405.8 1980.7,408.9 1983.7,409.3 C1986.8,409.7 1992.1,407.9 1995.5,408.2 C1998.9,408.5 2001.4,409.8 2004.4,410.8 C2007.3,411.9 2010.1,413.6 2013.3,414.5 C2016.5,415.4 2020.0,415.1 2023.6,416.3 C2027.3,417.4 2033.4,420.4 2035.3,421.2" fill="none" stroke="#00b050" stroke-width="3.6" stroke-linejoin="round" stroke-linecap="round"/>
<text transform="translate(77.56,51.87) scale(0.9788,1)" font-size="39.68" font-weight="bold">(a)</text>
<text transform="translate(1121.17,50.31) scale(0.9770,1)" font-size="39.47" font-weight="bold">(b)</text>
<text transform="translate(396.14,64.80) scale(0.9872,1)" font-size="29.86" font-weight="normal">1630</text>
<text transform="translate(489.04,114.39) scale(0.9660,1)" font-size="30.56" font-weight="normal">1540</text>
<text transform="translate(229.84,394.00) scale(0.9750,1)" font-size="30.28" font-weight="normal">1730</text>
<text transform="translate(1439.82,65.09) scale(0.9709,1)" font-size="30.70" font-weight="normal">1630</text>
<text transform="translate(1533.44,114.40) scale(0.9734,1)" font-size="30.28" font-weight="normal">1540</text>
<text transform="translate(1274.15,394.00) scale(0.9794,1)" font-size="30.00" font-weight="normal">1730</text>
<text transform="translate(408.30,532.64) scale(1.0392,1)" font-size="23.62" font-weight="normal">wavenumber [cm</text>
<text transform="translate(594.70,525.80) scale(0.9083,1)" font-size="16.38" font-weight="normal">-1</text>
<text transform="translate(1448.95,533.91) scale(1.0592,1)" font-size="23.30" font-weight="normal">Wavenumber [cm</text>
<text transform="translate(1641.22,527.00) scale(0.8854,1)" font-size="16.38" font-weight="normal">-1</text>
<text transform="translate(795.17,38.05) scale(1.0698,1)" font-size="23.09" font-weight="normal">Control (0 h)</text>
<text transform="translate(795.04,79.16) scale(1.0281,1)" font-size="23.78" font-weight="normal">EAOPs at 24 h</text>
<text transform="translate(794.54,118.96) scale(1.0438,1)" font-size="23.51" font-weight="normal">EAOPs at 48 h</text>
<text transform="translate(794.54,158.67) scale(1.0499,1)" font-size="23.38" font-weight="normal">EAOPs at 72 h</text>
<text transform="translate(1840.76,39.38) scale(1.1147,1)" font-size="22.30" font-weight="normal">Control</text>
<text transform="translate(1841.02,81.37) scale(1.0581,1)" font-size="23.38" font-weight="normal">UV irradiation</text>
<text transform="translate(1842.00,122.31) scale(1.0531,1)" font-size="23.30" font-weight="normal">Applied voltage</text>
<text transform="translate(1841.52,164.47) scale(1.0727,1)" font-size="23.10" font-weight="normal">EAOPs</text>
<text transform="translate(18.02,308.51) rotate(-90) scale(1.0338,1)" font-size="23.72" font-weight="normal">Intensity [-]</text>
<text transform="translate(1062.14,310.01) rotate(-90) scale(1.0420,1)" font-size="23.62" font-weight="normal">Intensity [-]</text>
<text transform="translate(610.15,532.64) scale(1.0392,1)" font-size="23.62">]</text>
<text transform="translate(1657.25,533.91) scale(1.0592,1)" font-size="23.30">]</text>
<rect x="55.0" y="1.5" width="936.7" height="449.8" fill="none" stroke="#000" stroke-width="2.5" stroke-linejoin="round"/>
<rect x="1101.6" y="1.4" width="934.4" height="451.2" fill="none" stroke="#000" stroke-width="2.5" stroke-linejoin="round"/>
<line x1="743.5" y1="30.3" x2="790.5" y2="30.3" stroke="#000000" stroke-width="3.4" stroke-linecap="round"/>
<line x1="743.5" y1="70.6" x2="790.5" y2="70.6" stroke="#ff0000" stroke-width="3.4" stroke-linecap="round"/>
<line x1="743.5" y1="111.7" x2="790.5" y2="111.7" stroke="#f27f2d" stroke-width="3.4" stroke-linecap="round"/>
<line x1="743.5" y1="151.3" x2="790.5" y2="151.3" stroke="#00b050" stroke-width="3.4" stroke-linecap="round"/>
<line x1="1789.3" y1="32.4" x2="1836" y2="32.4" stroke="#000000" stroke-width="3.4" stroke-linecap="round"/>
<line x1="1789.3" y1="73.9" x2="1836" y2="73.9" stroke="#7030a0" stroke-width="3.4" stroke-linecap="round"/>
<line x1="1789.3" y1="115.2" x2="1836" y2="115.2" stroke="#f27f2d" stroke-width="3.4" stroke-linecap="round"/>
<line x1="1789.3" y1="156.1" x2="1836" y2="156.1" stroke="#00b050" stroke-width="3.4" stroke-linecap="round"/>
</svg>
</body></html>
